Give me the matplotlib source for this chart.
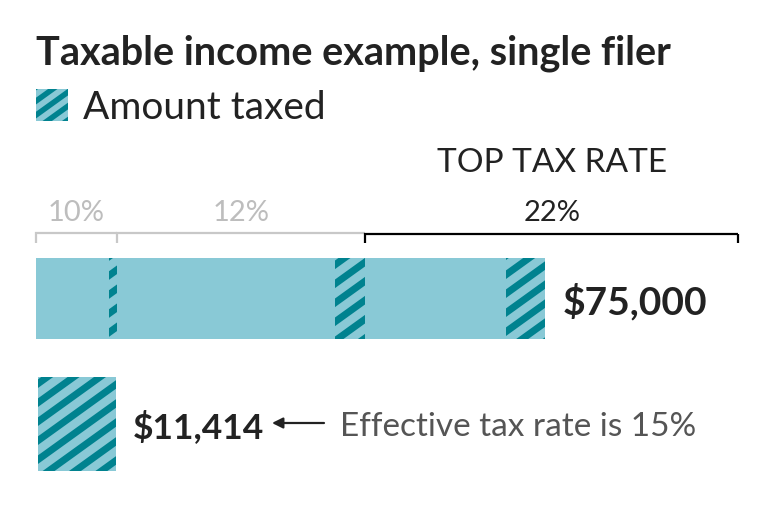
import matplotlib
matplotlib.use('Agg')
import matplotlib.pyplot as plt
from matplotlib.patches import Rectangle
from matplotlib.collections import LineCollection
from matplotlib.transforms import IdentityTransform

# 2025 single-filer brackets
bracket_lows = [0, 11925, 48475]
bracket_highs = [11925, 48475, 103350]
bracket_rates = [0.10, 0.12, 0.22]
bracket_labels = ['10%', '12%', '22%']
income = 75000
tax_total = 11414

light = '#89c9d6'
dark = '#00828f'
grey = '#c8c8c8'

plt.rcParams['font.family'] = ['Lato', 'DejaVu Sans']

fig = plt.figure(figsize=(7.68, 5.13), dpi=100)
ax = fig.add_axes([0, 0, 1, 1])
px = 702 / 103350  # pixels per dollar
ax.set_xlim(-36 / px, 732 / px)
ax.set_ylim(513, 0)
ax.axis('off')


def stripes(patch, period=19, slope=0.72, width=7.0):
    # diagonal stripes in pixel space, clipped to the patch
    bb = patch.get_window_extent()
    x0, x1 = bb.x0 - 20, bb.x1 + 20
    segs = []
    c = -1000
    while c < 1000:
        segs.append([(x0, slope * x0 + c), (x1, slope * x1 + c)])
        c += period
    lc = LineCollection(segs, colors=dark, linewidths=width * 0.72,
                        transform=IdentityTransform())
    ax.add_collection(lc, autolim=False)
    lc.set_clip_path(patch)


# title and legend
ax.text(0, 65, 'Taxable income example, single filer', fontsize=28.5,
        fontweight='bold', color='#222222', va='baseline')
sw = Rectangle((36, 513 - 121), 32, 32, facecolor=light, linewidth=0)
ax.add_patch(sw)
sw.set_transform(IdentityTransform())
ax.text(47 / px, 119, 'Amount taxed', fontsize=28, color='#222222', va='baseline')

# bracket scale
top = len(bracket_lows) - 1
for i, (lo, hi, lab) in enumerate(zip(bracket_lows, bracket_highs, bracket_labels)):
    c = 'black' if i == top else grey
    yl = 234 if i == top else 233
    ax.plot([lo, lo, hi], [243, yl, yl], color=c, lw=1.6, solid_joinstyle='miter',
            solid_capstyle='butt')
    if i == top:
        ax.plot([hi, hi], [yl, 243], color=c, lw=1.6, solid_capstyle='butt')
    ax.text((lo + hi) / 2, 221, lab, fontsize=21, color='#222222' if i == top else '#bdbdbd',
            ha='center', va='baseline')
ax.text((bracket_lows[top] + bracket_highs[top]) / 2, 172, 'TOP TAX RATE', fontsize=24,
        color='#222222', ha='center', va='baseline')

# income bar
ax.barh(298.5, income, height=81, left=0, color=light, linewidth=0)
hatched = []
for lo, hi, r in zip(bracket_lows, bracket_highs, bracket_rates):
    seg_hi = min(hi, income)
    if seg_hi <= lo:
        continue
    w = r * (seg_hi - lo)
    hatched += list(ax.barh(298.5, w, height=81, left=seg_hi - w, color=light, linewidth=0))
ax.text(income + 17 / px, 298.5, '$75,000', fontsize=28, fontweight='bold',
        color='#222222', va='center_baseline')

# total tax block
hatched += list(ax.barh(424, tax_total, height=94, left=2 / px, color=light, linewidth=0))
ax.text(97 / px, 424, '$11,414', fontsize=25.5, fontweight='bold',
        color='#222222', va='center_baseline')
ax.annotate('', xy=(236 / px, 423), xytext=(288 / px, 423),
            arrowprops=dict(arrowstyle='-|>', color='#222222', lw=1.6,
                            mutation_scale=16, shrinkA=0, shrinkB=0))
ax.text(304 / px, 424, 'Effective tax rate is 15%', fontsize=24,
        color='#555555', va='center_baseline')

for p in hatched:
    stripes(p)
stripes(sw, period=14, width=5.5)

fig.savefig('out.png', dpi=100)
